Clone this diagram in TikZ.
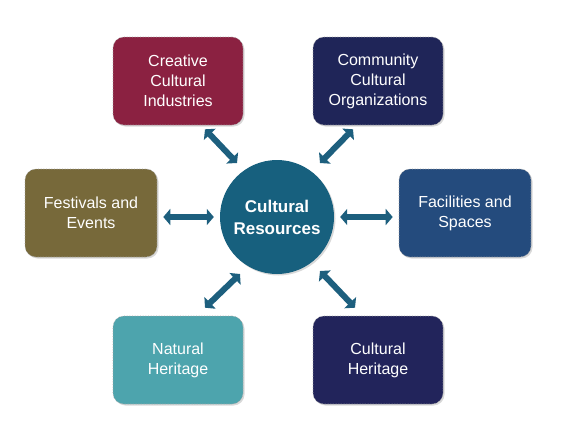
\documentclass[tikz,border=0pt]{standalone}
\usepackage{fontspec}
\setmainfont{Liberation Sans}
\usetikzlibrary{arrows.meta,shadows}
\definecolor{creative}{HTML}{8B2141}
\definecolor{community}{HTML}{1F2558}
\definecolor{festival}{HTML}{77693A}
\definecolor{facility}{HTML}{244B7D}
\definecolor{natural}{HTML}{4DA4AD}
\definecolor{heritage}{HTML}{22245B}
\definecolor{resource}{HTML}{17607E}
\definecolor{linkblue}{HTML}{1D5F7E}
\begin{document}
\begin{tikzpicture}[x=1pt, y=-1pt,
                    box/.style={shape=rectangle, rounded corners=11pt, minimum width=130pt,
                      minimum height=88pt, draw=gray!70, densely dotted, line width=.6pt,
                      text=white, align=center, font=\fontsize{16}{20}\selectfont,
                      drop shadow={shadow xshift=1.5pt, shadow yshift=-1.5pt, opacity=.3}},
                    biarrow/.style={draw=linkblue, line width=6pt, {Triangle[length=7pt,width=16pt]}-{Triangle[length=7pt,width=16pt]}}]
                  \useasboundingbox (0,0) rectangle (562,434);
                  \node[shape=circle, fill=resource, minimum size=114pt, text=white, align=center,
                        font=\fontsize{17}{22}\selectfont\bfseries,
                        drop shadow={shadow xshift=1.5pt, shadow yshift=-1.5pt, opacity=.3}]
                        (cr) at (277,217) {Cultural\\Resources};
                  \node[box, fill=creative] (cci) at (178,81) {Creative\\Cultural\\Industries};
                  \node[box, fill=community] (cco) at (378,81) {Community\\Cultural\\Organizations};
                  \node[box, fill=festival, minimum width=132pt] (fe) at (91,213) {Festivals and\\Events};
                  \node[box, fill=facility, minimum width=132pt] (fs) at (465,213) {Facilities and\\Spaces};
                  \node[box, fill=natural] (nh) at (178,360) {Natural\\Heritage};
                  \node[box, fill=heritage] (ch) at (378,360) {Cultural\\Heritage};
                  \draw[biarrow] ([xshift=27pt,yshift=-4pt]cci.south) -- ([xshift=-40pt,yshift=54pt]cr.center);
                  \draw[biarrow] ([xshift=-25pt,yshift=-4pt]cco.south) -- ([xshift=43pt,yshift=54pt]cr.center);
                  \draw[biarrow] ([xshift=6pt]fe.east |- cr.west) -- ([xshift=-6pt]cr.west);
                  \draw[biarrow] ([xshift=-6pt]fs.west |- cr.east) -- ([xshift=6pt]cr.east);
                  \draw[biarrow] ([xshift=27pt,yshift=8pt]nh.north) -- ([xshift=-37pt,yshift=-57pt]cr.center);
                  \draw[biarrow] ([xshift=-23pt,yshift=8pt]ch.north) -- ([xshift=43pt,yshift=-54pt]cr.center);
              \end{tikzpicture}
\end{document}
